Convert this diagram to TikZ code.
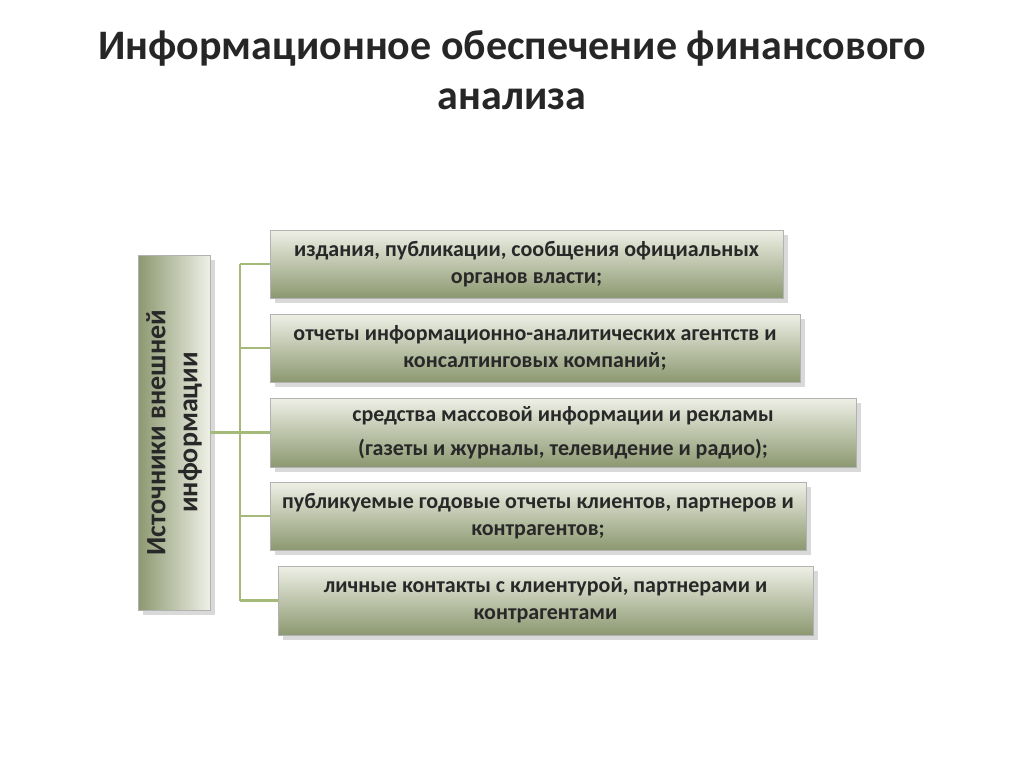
\documentclass[tikz,border=0pt]{standalone}
\usepackage{fontspec}
\setmainfont{Carlito}
\usetikzlibrary{shadows}
\definecolor{gtop}{RGB}{238,240,230}
\definecolor{gbot}{RGB}{140,152,112}
\definecolor{gline}{RGB}{165,185,120}
\definecolor{txt}{RGB}{40,40,40}
\tikzset{
 base/.style={draw=gray!60, align=center, font=\bfseries\fontsize{11}{13.5}\selectfont, text=txt, inner sep=0pt, drop shadow={opacity=0.3}},
 box/.style={base, top color=gtop, bottom color=gbot},
 conn/.style={draw=gline, line width=1.2pt}
}
\begin{document}
\begin{tikzpicture}[x=0.5pt,y=-0.5pt]
\useasboundingbox (0,0) rectangle (1024,768);
\node[font=\bfseries\fontsize{21}{25}\selectfont, align=center, text=black!85] (title) at (512,70) {Информационное обеспечение финансового\\анализа};
\node[base, minimum width=36pt, minimum height=177.5pt, left color=gbot, right color=gtop] (src) at (174,432.5) {};
\node[rotate=90, align=center, font=\bfseries\fontsize{14}{16}\selectfont, text=txt] (srct) at (174,432.5) {Источники внешней\\информации};
\node[box, minimum width=256.5pt, minimum height=34pt] (b1) at (526.5,264) {издания, публикации, сообщения официальных\\органов власти;};
\node[box, minimum width=265pt, minimum height=34pt] (b2) at (535,348) {отчеты информационно-аналитических агентств и\\консалтинговых  компаний;};
\node[box, minimum width=293pt, minimum height=34.5pt, font=\bfseries\fontsize{11}{17}\selectfont] (b3) at (563,432.5) {средства массовой информации и рекламы\\(газеты и журналы, телевидение и радио);};
\node[box, minimum width=268pt, minimum height=34pt] (b4) at (538,516) {публикуемые годовые отчеты клиентов, партнеров и\\контрагентов;};
\node[box, minimum width=267.5pt, minimum height=34.5pt] (b5) at (545.5,600.5) {личные контакты с клиентурой, партнерами и\\контрагентами};
\coordinate (j) at (240,432.5);
\draw[conn] (src.east) -- (j);
\draw[conn] (240,264) -- (240,600.5);
\foreach \b in {b1,b2,b3,b4,b5} \draw[conn] (240,0 |- \b.west) -- (\b.west);
\end{tikzpicture}
\end{document}
